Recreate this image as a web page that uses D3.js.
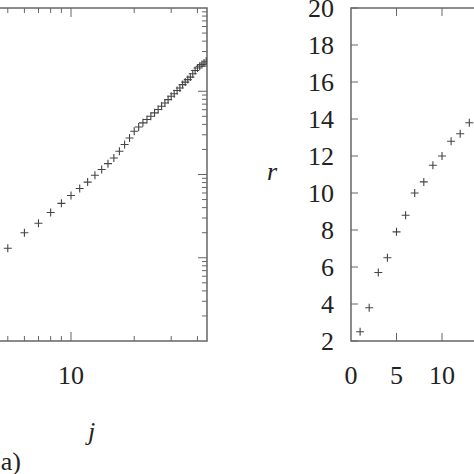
<!DOCTYPE html>
<html><head><meta charset="utf-8">
<script src="https://cdn.jsdelivr.net/npm/d3@7"></script>
<style>body{margin:0;background:#fff}text{font-family:"Liberation Serif","DejaVu Serif",serif;fill:#222}</style>
</head><body><div id="chart"></div>
<script>
// Panel (a): log-log, j vs value
const jValues = d3.range(5, 45);
const aValues = [13, 20, 26, 35, 45, 56, 68, 81, 98, 115, 135, 158, 190, 229, 275, 331, 372, 417, 457, 501,
  550, 603, 661, 724, 794, 871, 933, 1023, 1096, 1202, 1288, 1380, 1479, 1622, 1778, 1905, 1995, 2089, 2188, 2291];
// Panel (b): linear, index vs r
const bIndex = d3.range(1, 15);
const bValues = [2.5, 3.8, 5.7, 6.5, 7.9, 8.8, 10.0, 10.6, 11.5, 12.0, 12.8, 13.2, 13.8, 14.3];
const bYTicks = [2, 4, 6, 8, 10, 12, 14, 16, 18, 20];
const bXTicks = [0, 5, 10, 15];

const W = 474, H = 474;
const yTop = 8, yBottom = 341;
const stroke = "#666";
const svg = d3.select("#chart").append("svg").attr("width", W).attr("height", H);

const plus = (g, x, y, s = 4) => {
  g.append("path").attr("d", `M${x - s},${y}H${x + s}M${x},${y - s}V${y + s}`)
    .attr("stroke", "#444").attr("stroke-width", 1.1).attr("fill", "none");
};

// ---- Panel (a)
const ax = d3.scaleLog().domain([10, 10 ** (1 + 136 / 210)]).range([71, 207]);
const ay = d3.scaleLog().domain([1, 10000]).range([yBottom, yTop]);
svg.append("defs").append("clipPath").attr("id", "clipA")
  .append("rect").attr("x", -10).attr("y", yTop).attr("width", 217).attr("height", yBottom - yTop);
const ga = svg.append("g");
ga.append("path").attr("d", `M-5,${yTop}H207V${yBottom}H-5`).attr("fill", "none").attr("stroke", stroke).attr("stroke-width", 1.5);
// x ticks (top and bottom, inward)
const axTicks = [2, 3, 4, 5, 6, 7, 8, 9, 10, 20, 30, 40];
axTicks.forEach(t => {
  const x = ax(t), len = t === 10 ? 9 : 5;
  ga.append("line").attr("x1", x).attr("x2", x).attr("y1", yBottom).attr("y2", yBottom - len).attr("stroke", stroke);
  ga.append("line").attr("x1", x).attr("x2", x).attr("y1", yTop).attr("y2", yTop + len).attr("stroke", stroke);
});
// y ticks on right side
for (let d = 1; d <= 1000; d *= 10) {
  for (let k = 1; k < 10; k++) {
    const v = d * k; if (v === 1) continue;
    const y = ay(v), len = k === 1 ? 9 : 5;
    ga.append("line").attr("x1", 207).attr("x2", 207 - len).attr("y1", y).attr("y2", y).attr("stroke", stroke);
  }
}
const pa = ga.append("g").attr("clip-path", "url(#clipA)");
jValues.forEach((j, i) => plus(pa, ax(j), ay(aValues[i])));
ga.append("text").attr("x", ax(10)).attr("y", 384).attr("text-anchor", "middle").attr("font-size", 26).text("10");
ga.append("text").attr("x", 88).attr("y", 440).attr("font-size", 26).attr("font-style", "italic").text("j");
ga.append("text").attr("x", -8).attr("y", 470).attr("font-size", 26).text("(a)");

// ---- Panel (b)
const bx = d3.scaleLinear().domain([0, 10]).range([351, 442]);
const by = d3.scaleLinear().domain([2, 20]).range([yBottom, yTop]);
const gb = svg.append("g");
gb.append("path").attr("d", `M480,${yTop}H351V${yBottom}H480`).attr("fill", "none").attr("stroke", stroke).attr("stroke-width", 1.5);
bYTicks.forEach(t => {
  const y = by(t);
  gb.append("line").attr("x1", 351).attr("x2", 358).attr("y1", y).attr("y2", y).attr("stroke", stroke);
  gb.append("text").attr("x", 334).attr("y", y + 9).attr("text-anchor", "end").attr("font-size", 26).text(t);
});
bXTicks.forEach(t => {
  const x = bx(t);
  if (t > 0) {
    gb.append("line").attr("x1", x).attr("x2", x).attr("y1", yBottom).attr("y2", yBottom - 8).attr("stroke", stroke);
    gb.append("line").attr("x1", x).attr("x2", x).attr("y1", yTop).attr("y2", yTop + 8).attr("stroke", stroke);
  }
  gb.append("text").attr("x", x).attr("y", 384).attr("text-anchor", "middle").attr("font-size", 26).text(t);
});
bIndex.forEach((i, k) => plus(gb, bx(i), by(bValues[k])));
gb.append("text").attr("x", 272).attr("y", 180).attr("text-anchor", "middle").attr("font-size", 26).attr("font-style", "italic").text("r");
</script></body></html>
